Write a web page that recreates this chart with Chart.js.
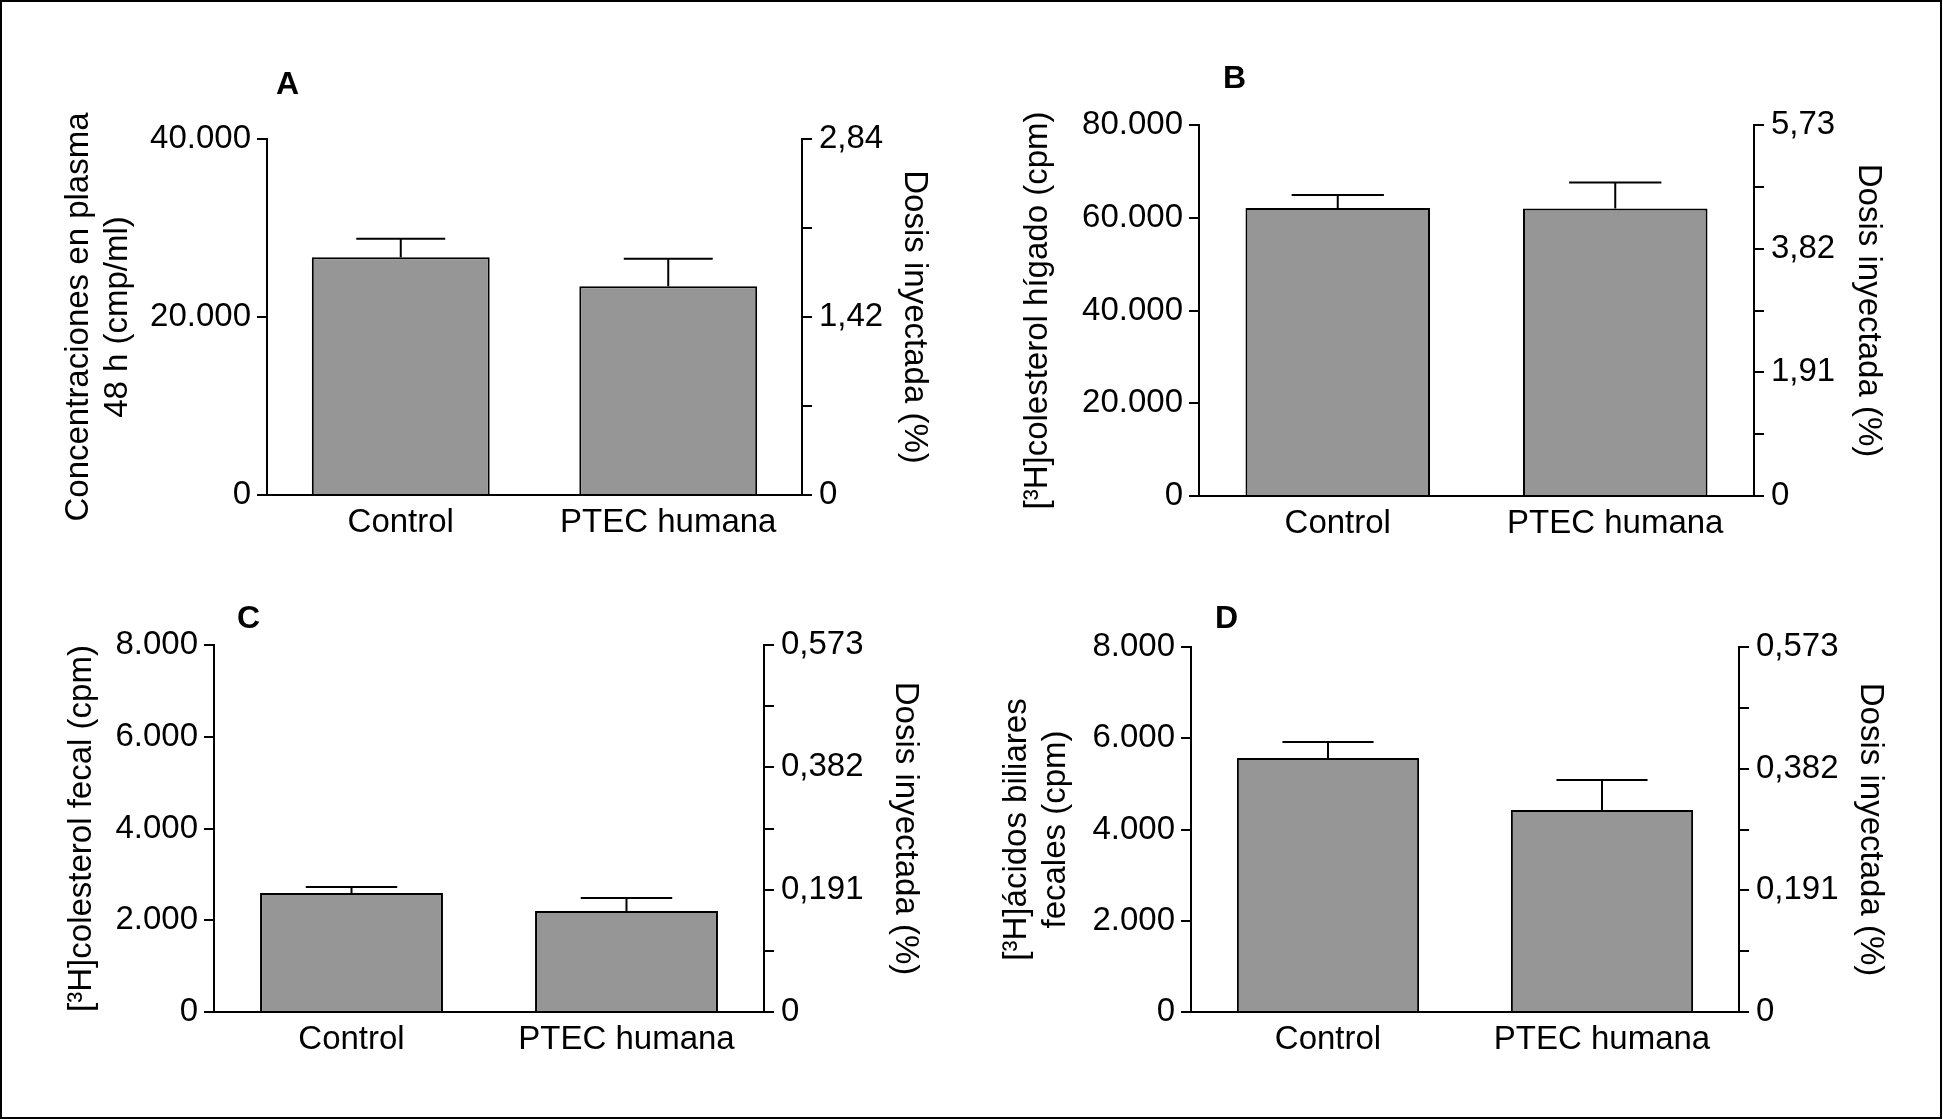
<!DOCTYPE html>
<html>
<head>
<meta charset="utf-8">
<script src="https://cdn.jsdelivr.net/npm/chart.js@4.4.0/dist/chart.umd.min.js"></script>
<style>
html, body { margin: 0; padding: 0; background: #fff; }
#frame { position: absolute; left: 0; top: 0; width: 1942px; height: 1119px; box-sizing: border-box; border: 2px solid #000; }
canvas { position: absolute; }
</style>
</head>
<body>
<div id="frame"></div>
<canvas id="chartA" width="971" height="560" style="left:0;top:0"></canvas>
<canvas id="chartB" width="972" height="560" style="left:971px;top:0"></canvas>
<canvas id="chartC" width="971" height="559" style="left:0;top:560px"></canvas>
<canvas id="chartD" width="972" height="559" style="left:971px;top:560px"></canvas>
<script>
// datos
const categories = ['Control', 'PTEC humana'];

const valuesA = [26700, 23450];
const errorsA = [2100, 3100];
const leftTicksA = [0, 20000, 40000];
const leftLabelsA = ['0', '20.000', '40.000'];
const rightTicksA = [0, 0.71, 1.42, 2.13, 2.84];
const rightLabelsA = ['0', '', '1,42', '', '2,84'];

const valuesB = [62100, 62000];
const errorsB = [2800, 5600];
const leftTicksB = [0, 20000, 40000, 60000, 80000];
const leftLabelsB = ['0', '20.000', '40.000', '60.000', '80.000'];
const rightTicksB = [0, 0.955, 1.91, 2.865, 3.82, 4.775, 5.73];
const rightLabelsB = ['0', '', '1,91', '', '3,82', '', '5,73'];

const valuesC = [2594, 2202];
const errorsC = [131, 283];
const leftTicksC = [0, 2000, 4000, 6000, 8000];
const leftLabelsC = ['0', '2.000', '4.000', '6.000', '8.000'];
const rightTicksC = [0, 0.0955, 0.191, 0.2865, 0.382, 0.4775, 0.573];
const rightLabelsC = ['0', '', '0,191', '', '0,382', '', '0,573'];

const valuesD = [5567, 4427];
const errorsD = [351, 658];
const leftTicksD = [0, 2000, 4000, 6000, 8000];
const leftLabelsD = ['0', '2.000', '4.000', '6.000', '8.000'];
const rightTicksD = [0, 0.0955, 0.191, 0.2865, 0.382, 0.4775, 0.573];
const rightLabelsD = ['0', '', '0,191', '', '0,382', '', '0,573'];

const rightTitle = 'Dosis inyectada (%)';

Chart.defaults.font.family = '"Liberation Sans", Arial, Helvetica, sans-serif';
Chart.defaults.color = '#000';

// barras de error (solo hacia arriba, con remate)
const errorBarPlugin = {
	id: 'errorBars',
	afterDatasetsDraw(chart) {
		const ctx = chart.ctx;
		const ds = chart.data.datasets[0];
		const yScale = chart.scales.y;
		const meta = chart.getDatasetMeta(0);
		ctx.save();
		ctx.strokeStyle = '#000';
		ctx.lineWidth = 2;
		meta.data.forEach(function(bar, i) {
			const yTop = yScale.getPixelForValue(ds.data[i] + ds.errors[i]);
			const half = bar.width * 0.25;
			ctx.beginPath();
			ctx.moveTo(bar.x, bar.y);
			ctx.lineTo(bar.x, yTop);
			ctx.moveTo(bar.x - half, yTop);
			ctx.lineTo(bar.x + half, yTop);
			ctx.stroke();
		});
		ctx.restore();
	}
};

// letra del panel (A, B, C, D)
const panelLetterPlugin = {
	id: 'panelLetter',
	afterDraw(chart, args, opts) {
		const ctx = chart.ctx;
		ctx.save();
		ctx.font = 'bold 32px "Liberation Sans", Arial, sans-serif';
		ctx.fillStyle = '#000';
		ctx.textBaseline = 'alphabetic';
		ctx.fillText(opts.text, opts.x, opts.y);
		ctx.restore();
	}
};

function makePanel(id, values, errors, leftTicks, leftLabels, rightTicks, rightLabels, leftTitle, g) {
	const nc = document.getElementById(id);
	return new Chart(nc, {
		type: 'bar',
		data: {
			labels: categories,
			datasets: [{
				data: values,
				errors: errors,
				yAxisID: 'y',
				backgroundColor: '#969696',
				borderColor: '#000',
				borderWidth: 2,
				barPercentage: 0.665,
				categoryPercentage: 1
			}]
		},
		options: {
			responsive: false,
			animation: false,
			layout: { padding: { top: g.top, left: 0, right: 0, bottom: 0 } },
			plugins: {
				legend: { display: false },
				tooltip: { enabled: false },
				panelLetter: { text: g.letter, x: g.lx, y: g.ly }
			},
			scales: {
				x: {
					type: 'category',
					offset: true,
					grid: { display: true, drawOnChartArea: false, drawTicks: false },
					border: { color: '#000', width: 2 },
					ticks: { color: '#000', font: { size: 33 }, padding: 8, maxRotation: 0, autoSkip: false },
					afterFit: function(s) { s.height = g.bottom; }
				},
				y: {
					position: 'left',
					min: 0,
					max: leftTicks[leftTicks.length - 1],
					afterBuildTicks: function(s) { s.ticks = leftTicks.map(v => ({ value: v })); },
					ticks: {
						color: '#000', font: { size: 33 }, padding: 6, autoSkip: false,
						callback: function(v, i) { return leftLabels[i]; }
					},
					grid: { drawOnChartArea: false, drawTicks: true, tickLength: 10, color: '#000', lineWidth: 2 },
					border: { color: '#000', width: 2 },
					title: {
						display: true, text: leftTitle, color: '#000',
						font: { size: 33, lineHeight: 1.18 },
						padding: { top: g.ltPad, bottom: 0 }
					},
					afterFit: function(s) { s.width = g.left; }
				},
				y1: {
					position: 'right',
					display: true,
					min: 0,
					max: rightTicks[rightTicks.length - 1],
					afterBuildTicks: function(s) { s.ticks = rightTicks.map(v => ({ value: v })); },
					ticks: {
						color: '#000', font: { size: 33 }, padding: 7, autoSkip: false,
						callback: function(v, i) { return rightLabels[i]; }
					},
					grid: { drawOnChartArea: false, drawTicks: true, tickLength: 10, color: '#000', lineWidth: 2 },
					border: { color: '#000', width: 2 },
					title: {
						display: true, text: rightTitle, color: '#000',
						font: { size: 33, lineHeight: 1.18 },
						padding: { top: g.rtPad, bottom: 0 }
					},
					afterFit: function(s) { s.width = g.right; }
				}
			}
		},
		plugins: [errorBarPlugin, panelLetterPlugin]
	});
}

makePanel('chartA', valuesA, errorsA, leftTicksA, leftLabelsA, rightTicksA, rightLabelsA,
	['Concentraciones en plasma', '48 h (cmp/ml)'],
	{ top: 139, left: 267, right: 169, bottom: 65, ltPad: 59.5, rtPad: 37.5, letter: 'A', lx: 276, ly: 94 });

makePanel('chartB', valuesB, errorsB, leftTicksB, leftLabelsB, rightTicksB, rightLabelsB,
	'[³H]colesterol hígado (cpm)',
	{ top: 125, left: 228, right: 189, bottom: 64, ltPad: 47.5, rtPad: 55.5, letter: 'B', lx: 252, ly: 88 });

makePanel('chartC', valuesC, errorsC, leftTicksC, leftLabelsC, rightTicksC, rightLabelsC,
	'[³H]colesterol fecal (cpm)',
	{ top: 85, left: 214, right: 207, bottom: 107, ltPad: 62.5, rtPad: 46.5, letter: 'C', lx: 237, ly: 68 });

makePanel('chartD', valuesD, errorsD, leftTicksD, leftLabelsD, rightTicksD, rightLabelsD,
	['[³H]ácidos biliares', 'fecales (cpm)'],
	{ top: 87, left: 220, right: 204, bottom: 107, ltPad: 26.5, rtPad: 53.5, letter: 'D', lx: 244, ly: 68 });
</script>
</body>
</html>
